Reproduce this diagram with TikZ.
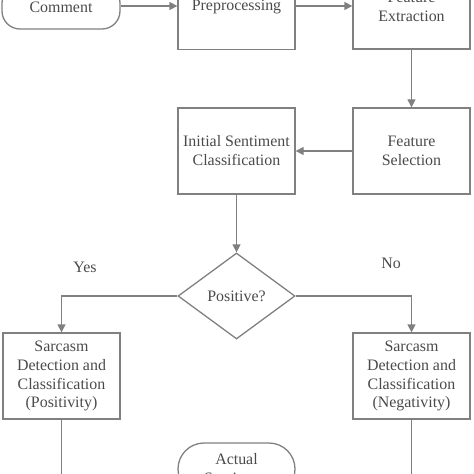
\documentclass[tikz,border=0pt]{standalone}
\usepackage{fontspec}
\setmainfont{Liberation Serif}
\usetikzlibrary{shapes.geometric,arrows.meta}
\definecolor{ln}{HTML}{808080}
\definecolor{tx}{HTML}{4A4A4A}
\begin{document}
\begin{tikzpicture}[x=1bp,y=-1bp,
  every node/.style={text=tx,font=\fontsize{16}{19}\selectfont,align=center,inner sep=0pt},
  boxn/.style={draw=ln,line width=1.3bp,minimum width=117bp,minimum height=86bp},
  termn/.style={draw=ln,line width=1.3bp,rounded corners=18bp,minimum width=118bp},
  decn/.style={draw=ln,line width=1.3bp,diamond,aspect=1.36,minimum width=117bp,minimum height=86bp},
  conn/.style={draw=ln,line width=1.3bp,-{Triangle[length=8bp,width=8bp]}},
  plain/.style={draw=ln,line width=1.3bp}]
\useasboundingbox (0,0) rectangle (474,474);
\clip (0,0) rectangle (474,474);
\node[termn,minimum height=44bp] (com) at (61,7) {Comment};
\node[boxn,minimum height=85bp] (pre) at (236.5,7) {Preprocessing};
\node[boxn,minimum height=85bp] (fe) at (411.5,6.5) {Feature\\Extraction};
\node[boxn] (fs) at (411.5,151) {Feature\\Selection};
\node[boxn] (isc) at (236.5,151) {Initial Sentiment\\Classification};
\node[decn] (pos) at (236.5,296) {Positive?};
\node[boxn] (sp) at (61.5,376) {Sarcasm\\Detection and\\Classification\\(Positivity)};
\node[boxn] (sn) at (411.5,376) {Sarcasm\\Detection and\\Classification\\(Negativity)};
\node[termn,rounded corners=26bp,minimum width=117bp,minimum height=52bp] (act) at (236.5,469) {Actual\\Sentiment};
\node (yes) at (85,267) {Yes};
\node (no) at (391,263) {No};
\coordinate (spend) at (61.5,490);
\coordinate (snend) at (411.5,490);
\draw[conn] (com.east |- 0,6) -- (pre.west |- 0,6);
\draw[conn] (pre.east |- 0,6) -- (fe.west |- 0,6);
\draw[conn] (fe.south) -- (fs.north);
\draw[conn] (fs.west) -- (isc.east);
\draw[conn] (isc.south) -- (pos.north);
\draw[conn] (pos.west) -| (sp.north);
\draw[conn] (pos.east) -| (sn.north);
\draw[plain] (sp.south) -- (spend);
\draw[plain] (sn.south) -- (snend);
\end{tikzpicture}
\end{document}
